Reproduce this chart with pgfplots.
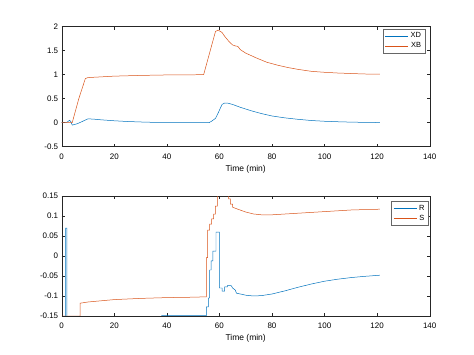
\documentclass[border=0pt]{standalone}
\usepackage{pgfplots}
\pgfplotsset{compat=1.18}
\usepackage{fontspec}
\setmainfont{Liberation Sans}
\definecolor{mblue}{rgb}{0,0.447,0.741}
\definecolor{morange}{rgb}{0.85,0.325,0.098}
\definecolor{axgray}{gray}{0.15}
\pgfplotsset{legend image code/.code={\draw[#1] (0bp,0bp) -- (23bp,0bp);}}
\pgfplotsset{
  mystyle/.style={
    scale only axis, width=368bp, height=120bp,
    xmin=0, xmax=140, xtick={0,20,...,140},
    axis line style={axgray, line width=0.4pt},
    tick style={axgray, line width=0.4pt},
    tick align=inside, major tick length=3bp,
    every tick label/.append style={font=\fontsize{8}{9}\selectfont, text=black},
    xticklabel style={yshift=-3.5bp},
    xlabel={Time (min)},
    xlabel style={font=\fontsize{8.5}{10}\selectfont, yshift=1bp},
    /pgf/number format/assume math mode=true,
    legend style={font=\fontsize{7.5}{8.3}\selectfont, draw=black!60, line width=0.4pt, fill=white,
      inner xsep=2bp, inner ysep=1.5bp, row sep=-0.5bp},
    legend cell align=right,
    every axis plot/.append style={line width=0.5pt},
    scaled ticks=false,
  }
}
\begin{document}
\begin{tikzpicture}
\useasboundingbox (0,0) rectangle (474bp,355bp);
\begin{axis}[mystyle, at={(61.7bp,208.3bp)}, anchor=south west,
  ymin=-0.5, ymax=2, ytick={-0.5,0,0.5,1,1.5,2},
  yticklabel style={/pgf/number format/fixed},
  legend style={at={(0.988,0.981)}, anchor=north east}]
\addplot[mblue] coordinates {(0,0) (2,0.01) (3,0.05) (3.5,0.02) (4,-0.05) (6,-0.02) (8,0.03) (10,0.08) (12,0.075) (15,0.06) (20,0.04) (25,0.025) (30,0.015) (35,0.007) (40,0.002) (50,0) (56,0) (57,0.03) (58.5,0.09) (59.5,0.2) (61,0.38) (62,0.41) (63,0.41) (65,0.38) (68,0.32) (72,0.25) (76,0.19) (80,0.14) (85,0.1) (90,0.07) (95,0.045) (100,0.03) (105,0.02) (110,0.012) (115,0.007) (121,0.003)};
\addlegendentry{XD}
\addplot[morange] coordinates {(0,0) (3,0) (4,0) (6.5,0.5) (9,0.92) (10,0.94) (15,0.955) (20,0.97) (30,0.985) (40,0.995) (54,1.0) (56,1.4) (58.5,1.9) (59.5,1.93) (61,1.88) (62,1.8) (63.5,1.7) (65,1.62) (66,1.6) (67,1.59) (68,1.52) (70,1.45) (74,1.35) (78,1.26) (82,1.2) (86,1.15) (90,1.11) (95,1.07) (100,1.05) (105,1.035) (110,1.025) (115,1.015) (121,1.01)};
\addlegendentry{XB}
\end{axis}
\begin{axis}[mystyle, at={(61.7bp,39bp)}, anchor=south west,
  ymin=-0.15, ymax=0.15, ytick={-0.15,-0.1,-0.05,0,0.05,0.1,0.15},
  yticklabel style={/pgf/number format/fixed, /pgf/number format/precision=2},
  legend style={at={(0.997,0.955)}, anchor=north east}]
\addplot[mblue] coordinates {(0,-0.3)(1.5,-0.3)(1.5,0.07)(2,0.07)(2,-0.3)(38,-0.3)(38,-0.149)(55,-0.149)(55,-0.127)(55.8,-0.127)(55.8,-0.105)(56.3,-0.105)(56.3,-0.035)(56.8,-0.035)(56.8,-0.012)(57.5,-0.012)(57.5,0.012)(58.7,0.012)(58.7,0.06)(60,0.06)(60,-0.08)(61,-0.08)(61,-0.088)(62,-0.088)(62,-0.077)(63,-0.077)(63,-0.074)(64.5,-0.074)(65,-0.08)(66,-0.085)(66.5,-0.093)(68,-0.095)(70,-0.098)(73,-0.1)(76,-0.099)(80,-0.095)(85,-0.087)(90,-0.078)(95,-0.07)(100,-0.063)(105,-0.058)(110,-0.054)(115,-0.051)(121,-0.048)};
\addlegendentry{R}
\addplot[morange] coordinates {(0,-0.15)(7,-0.15)(7,-0.118)(10,-0.115)(15,-0.112)(20,-0.109)(30,-0.106)(40,-0.104)(50,-0.103)(55,-0.102)(55,-0.004)(55.5,-0.004)(55.5,0.065)(56.3,0.065)(56.3,0.08)(57,0.08)(57,0.093)(57.8,0.093)(57.8,0.105)(58.5,0.105)(58.5,0.125)(59.2,0.125)(59.2,0.2)(63.5,0.2)(63.5,0.143)(64.2,0.143)(64.2,0.13)(65,0.13)(65,0.122)(67,0.117)(70,0.11)(73,0.105)(76,0.103)(80,0.103)(85,0.105)(90,0.107)(95,0.109)(100,0.111)(105,0.113)(110,0.115)(115,0.116)(121,0.117)};
\addlegendentry{S}
\end{axis}
\end{tikzpicture}
\end{document}
